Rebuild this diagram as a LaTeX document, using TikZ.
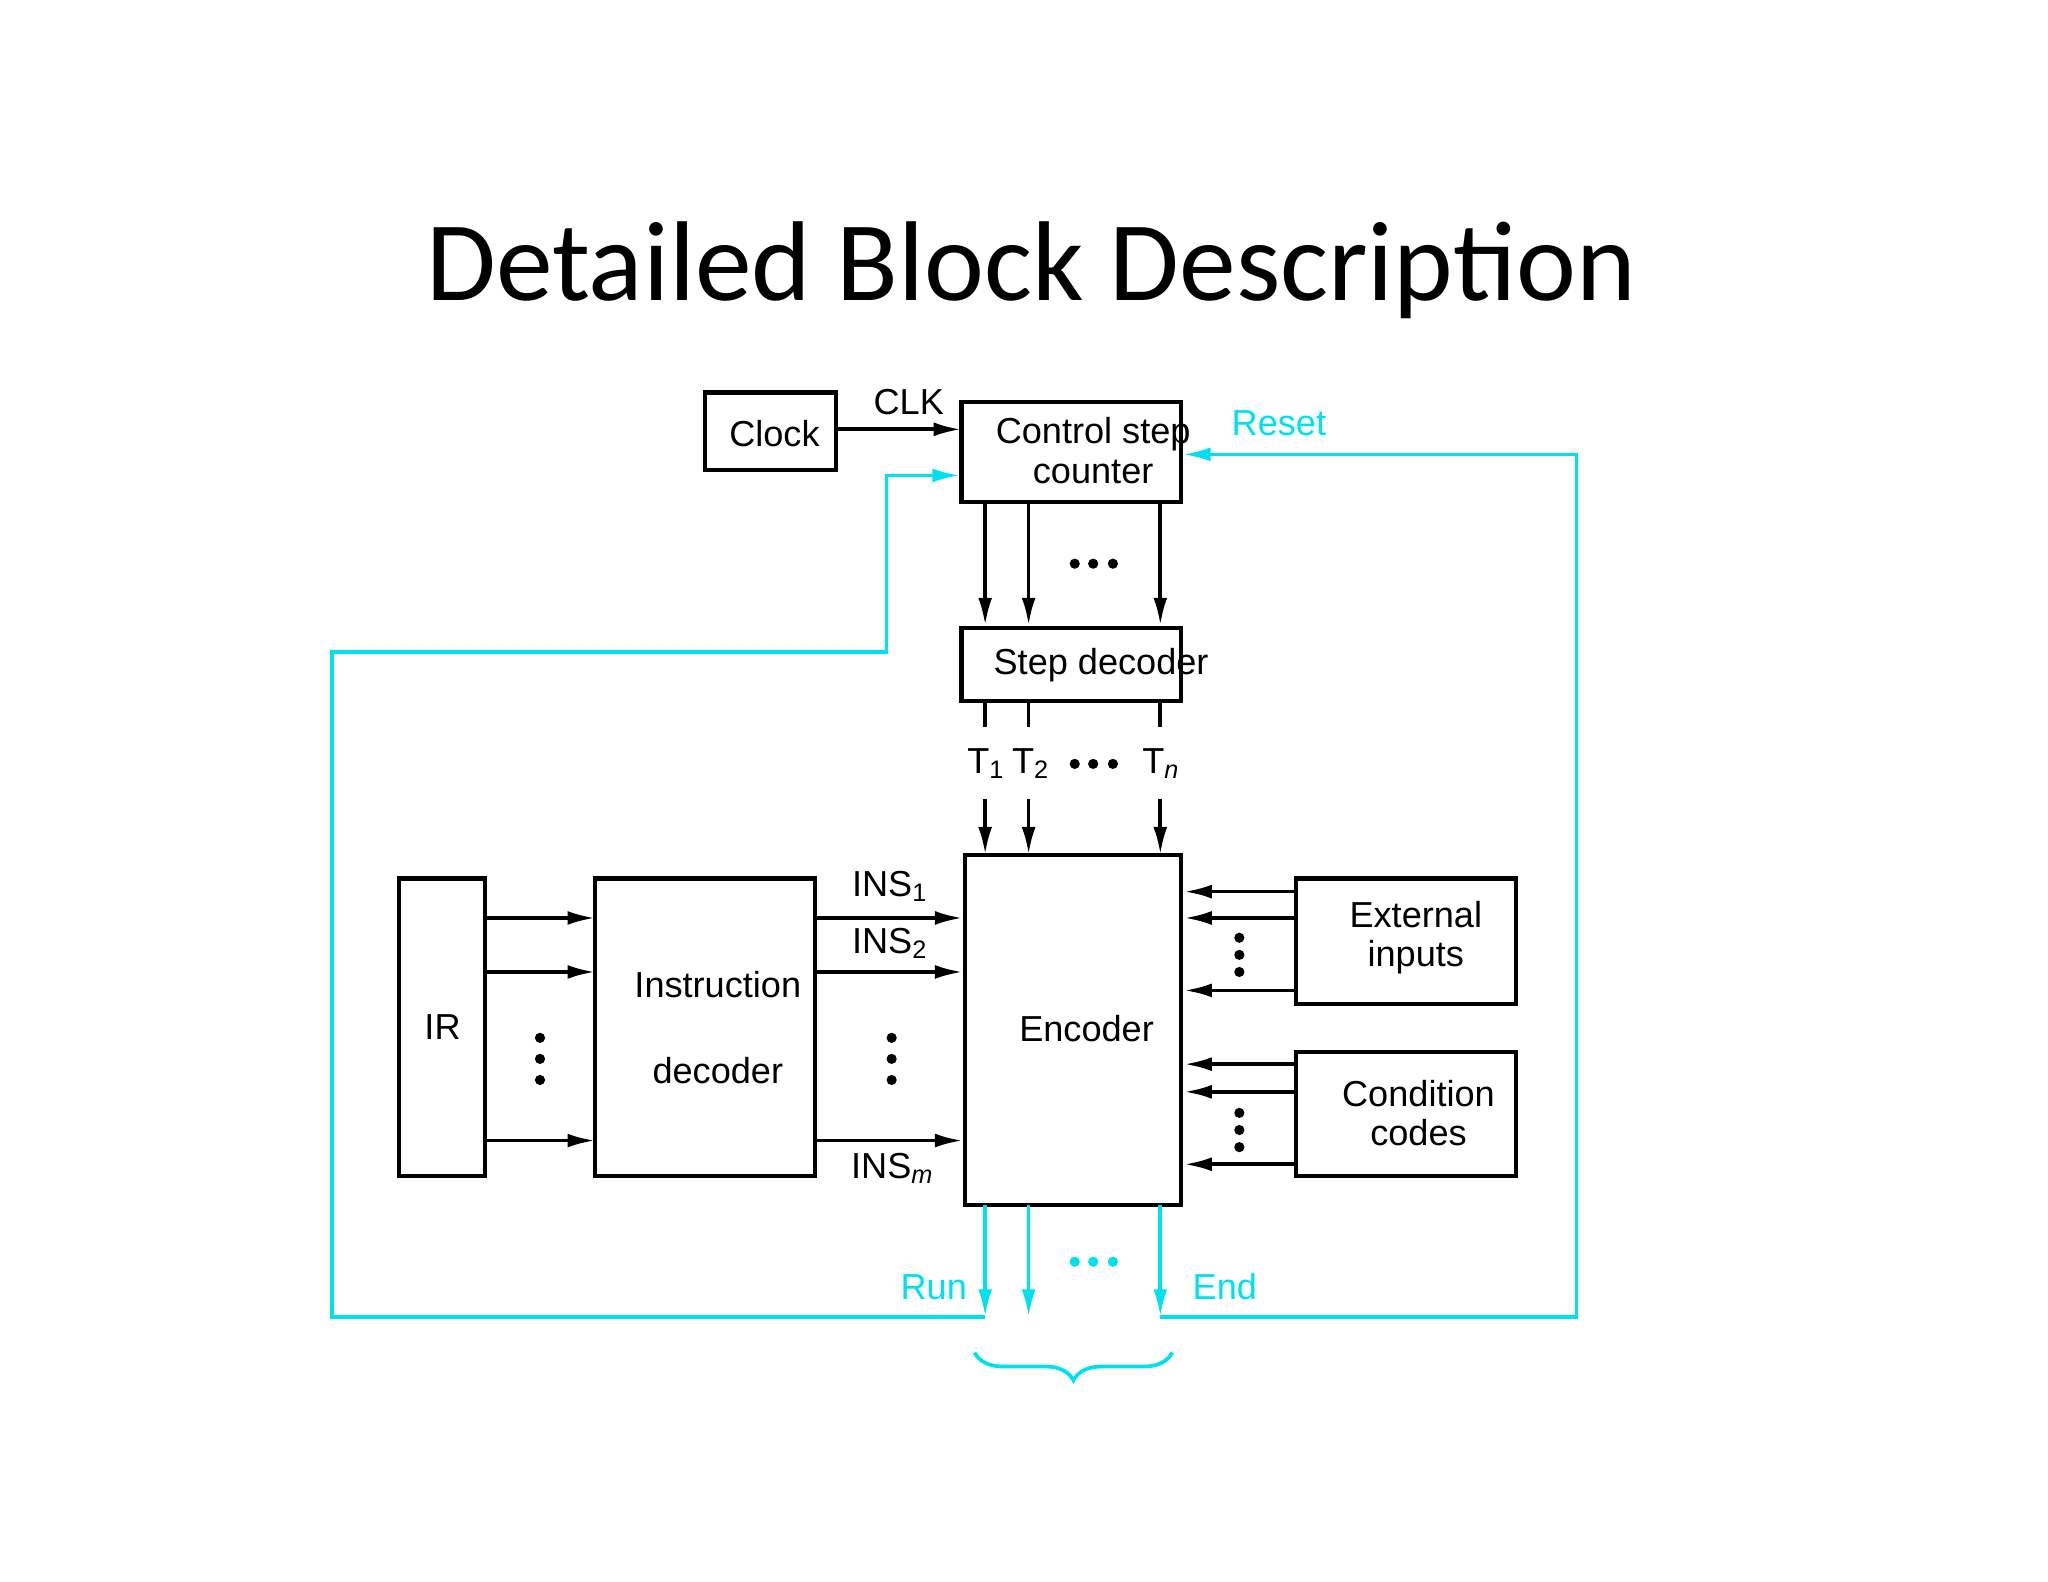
\documentclass[tikz,border=0pt]{standalone}
\usepackage{fontspec}
\setmainfont{Liberation Sans}
\newfontfamily\titlefont{Carlito}
\usetikzlibrary{arrows.meta,decorations.pathreplacing}
\definecolor{cy}{RGB}{0,225,240}
\begin{document}
\begin{tikzpicture}[x=0.01cm,y=-0.01cm,
  box/.style={draw,line width=0.9pt},
  lbl/.style={font=\fontsize{7.8}{8.5}\selectfont,inner sep=0pt},
  arr/.style={line width=0.8pt,-{Latex[length=6pt,width=3pt]}},
  ln/.style={line width=0.8pt},
  cln/.style={line width=0.8pt,draw=cy},
  carr/.style={line width=0.8pt,draw=cy,-{Latex[length=6pt,width=3pt]},color=cy},
  dot/.style={fill,circle,inner sep=0pt,minimum size=2.2pt}]
\useasboundingbox (0,0) rectangle (1555,1201);
\node[font=\titlefont\fontsize{24.5}{28}\selectfont] (title) at (783,205) {Detailed Block Description};
% boxes
\draw[box] (535,298) rectangle (635,357);
\node[lbl] (clock) at (588,329) {Clock};
\draw[box] (730,305) rectangle (897,381);
\node[lbl,align=center] (csc) at (830,342) {Control step\\ counter};
\draw[box] (730,477) rectangle (897,532);
\node[lbl] (sd) at (836,505) {Step decoder};
\draw[box] (303,667) rectangle (368,893);
\node[lbl] (ir) at (336,780) {IR};
\draw[box] (452,667) rectangle (619,893);
\node[lbl,align=center] (id) at (545,780) {Instruction\\[10pt] decoder};
\draw[box] (733,649) rectangle (897,915);
\node[lbl] (enc) at (825,781) {Encoder};
\draw[box] (984,667) rectangle (1151,762);
\node[lbl,align=center] (ext) at (1075,712) {External\\ inputs};
\draw[box] (984,799) rectangle (1151,893);
\node[lbl,align=center] (cc) at (1077,845) {Condition\\ codes};
% clock
\coordinate (c1) at (635,326); \coordinate (c2) at (730,326);
\draw[arr] (c1) -- (c2);
\node[lbl] (clk) at (690,305) {CLK};
% counter to step decoder
\foreach \x in {748,781,881}{\draw[arr] (\x,381) -- (\x,475);}
\foreach \x in {816,830,845}{\node[dot] at (\x,428) {};}
% step decoder to encoder
\foreach \x in {748,781,881}{\draw[ln] (\x,532) -- (\x,552); \draw[arr] (\x,607) -- (\x,649);}
\node[lbl] (t1) at (749,580) {T\textsubscript{1}};
\node[lbl] (t2) at (783,580) {T\textsubscript{2}};
\node[lbl] (tn) at (882,580) {T\textsubscript{\itshape n}};
\foreach \x in {816,830,845}{\node[dot] at (\x,580) {};}
% IR to ID, ID to encoder
\foreach \y in {697,738,866}{\draw[arr] (368,\y) -- (452,\y); \draw[arr] (619,\y) -- (731,\y);}
\foreach \y in {788,804,820}{\node[dot] at (410,\y) {}; \node[dot] at (677,\y) {};}
\node[lbl] (ins1) at (676,673) {INS\textsubscript{1}};
\node[lbl] (ins2) at (676,716) {INS\textsubscript{2}};
\node[lbl] (insm) at (678,887) {INS\textsubscript{\itshape m}};
% inputs to encoder
\foreach \y in {677,697,752,808,829,884}{\draw[arr] (984,\y) -- (899,\y);}
\foreach \y in {712,725,738}{\node[dot] at (941,\y) {};}
\foreach \y in {845,858,871}{\node[dot] at (941,\y) {};}
% cyan outputs
\foreach \x in {748,781,881}{\draw[carr] (\x,915) -- (\x,1000);}
\foreach \x in {816,830,845}{\node[dot,fill=cy] at (\x,958) {};}
\node[lbl,text=cy] (run) at (709,977) {Run};
\node[lbl,text=cy] (end) at (930,977) {End};
\node[lbl,text=cy] (reset) at (971,321) {Reset};
\draw[carr] (748,1000) -- (252,1000) -- (252,495) -- (673,495) -- (673,361) -- (729,361);
\draw[carr] (881,1000) -- (1197,1000) -- (1197,345) -- (898,345);
\draw[cln,decorate,decoration={brace,mirror,amplitude=6pt}] (740,1027) -- (890,1027);
\end{tikzpicture}
\end{document}
